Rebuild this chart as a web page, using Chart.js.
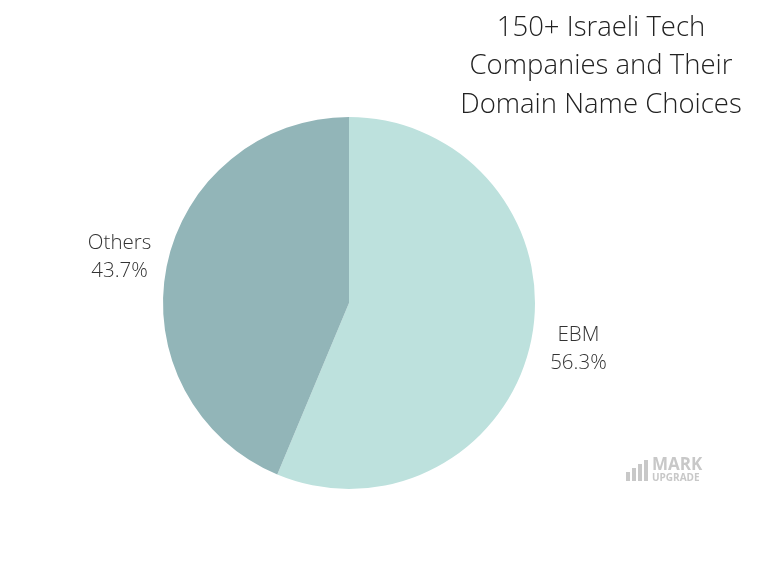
<!DOCTYPE html>
<html><head><meta charset="utf-8">
<script src="https://cdn.jsdelivr.net/npm/chart.js@4"></script>
<style>html,body{margin:0;padding:0;background:#fff}#wrap{width:768px;height:569px;position:relative}</style>
</head><body><div id="wrap"><canvas id="c"></canvas></div>
<script>
const categories = ["EBM", "Others"];
const values = [56.3, 43.7];
const colors = ["#BDE1DD", "#92B5B8"];
const titleLines = ["150+ Israeli Tech", "Companies and Their", "Domain Name Choices"];

const overlay = {
  id: 'overlay',
  afterDraw(chart) {
    const ctx = chart.ctx;
    ctx.save();
    ctx.fillStyle = '#222';
    ctx.font = '300 27.5px "Open Sans"';
    ctx.textAlign = 'center';
    ctx.textBaseline = 'middle';
    titleLines.forEach((t, i) => ctx.fillText(t, 601, 28 + i * 38.5));
    const meta = chart.getDatasetMeta(0);
    ctx.font = '300 20.5px "Open Sans"';
    ctx.fillStyle = '#333';
    meta.data.forEach((arc, i) => {
      const mid = (arc.startAngle + arc.endAngle) / 2;
      const r = arc.outerRadius + 48;
      const x = arc.x + Math.cos(mid) * r;
      const y = arc.y + Math.sin(mid) * r;
      ctx.fillText(categories[i], x, y - 14);
      ctx.fillText(values[i].toFixed(1) + '%', x, y + 14);
    });
    // watermark
    ctx.fillStyle = '#c8c8c8';
    [[626,9],[632,13],[638,17],[644,21]].forEach(([x,h]) => ctx.fillRect(x, 481 - h, 4, h));
    ctx.textAlign = 'left';
    ctx.font = 'bold 17px "Open Sans"';
    ctx.fillText('MARK', 652, 465);
    ctx.font = 'bold 10px "Open Sans"';
    ctx.fillText('UPGRADE', 652, 478);
    ctx.restore();
  }
};

new Chart(document.getElementById('c'), {
  type: 'pie',
  data: { labels: categories, datasets: [{ data: values, backgroundColor: colors, borderWidth: 0 }] },
  options: {
    responsive: true, maintainAspectRatio: false, animation: false,
    layout: { padding: { top: 117, bottom: 80, left: 0, right: 70 } },
    plugins: { legend: { display: false }, tooltip: { enabled: false } }
  },
  plugins: [overlay]
});
</script></body></html>
